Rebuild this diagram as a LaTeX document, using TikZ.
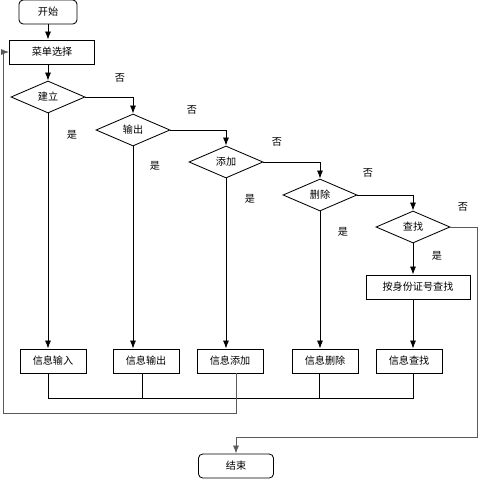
\documentclass[tikz,border=0pt]{standalone}
\usepackage{fontspec}
\newfontfamily\cjk{Noto Sans CJK SC}
\usepackage{tikz}
\usetikzlibrary{arrows.meta,shapes.geometric}
\definecolor{LineaGris}{RGB}{90,90,90}

\begin{document}
\begin{tikzpicture}[x=0.025cm,y=-0.025cm,>=Latex,line width=0.6pt,
  every node/.style={font=\cjk\fontsize{7.2}{9}\selectfont},
  terminal/.style={draw,rounded corners=3pt,minimum width=1.45cm,minimum height=0.6cm,inner sep=0pt},
  caja/.style={draw,minimum width=1.65cm,minimum height=0.6cm,inner sep=0pt},
  decision/.style={draw,diamond,minimum width=1.85cm,minimum height=0.8cm,inner sep=0pt},
  etiqueta/.style={inner sep=0pt}]
  \useasboundingbox (0,0) rectangle (480,480);
  % nodos
  \node[terminal] (inicio) at (48,12) {开始};
  \node[caja,minimum width=2.125cm] (menu) at (52,52) {菜单选择};
  \node[decision] (jianli) at (48,97) {建立};
  \node[decision] (shuchu) at (133,130) {输出};
  \node[decision] (tianjia) at (226,162) {添加};
  \node[decision] (shanchu) at (320,195) {删除};
  \node[decision] (chazhao) at (413,227) {查找};
  \node[caja,minimum width=2.6cm] (porid) at (418,287) {按身份证号查找};
  \node[caja] (info1) at (53,361) {信息输入};
  \node[caja] (info2) at (146,361) {信息输出};
  \node[caja] (info3) at (230,361) {信息添加};
  \node[caja] (info4) at (325,361) {信息删除};
  \node[caja] (info5) at (409,361) {信息查找};
  \node[terminal,minimum width=1.875cm] (fin) at (236,466) {结束};
  % flechas
  \draw[->] (inicio.south) -- (inicio.south |- menu.north);
  \draw[->] (jianli.north |- menu.south) -- (jianli.north);
  \draw[->] (jianli.east) -| (shuchu.north);
  \draw[->] (shuchu.east) -| (tianjia.north);
  \draw[->] (tianjia.east) -| (shanchu.north);
  \draw[->] (shanchu.east) -| (chazhao.north);
  \draw[->] (jianli.south) -- (jianli.south |- info1.north);
  \draw[->] (shuchu.south) -- (shuchu.south |- info2.north);
  \draw[->] (tianjia.south) -- (tianjia.south |- info3.north);
  \draw[->] (shanchu.south) -- (shanchu.south |- info4.north);
  \draw[->] (chazhao.south) -- (chazhao.south |- porid.north);
  \draw[->] (chazhao.south |- porid.south) -- (chazhao.south |- info5.north);
  % retorno
  \coordinate (b1) at (48,398);
  \coordinate (b2) at (142,398);
  \coordinate (b3) at (236,413);
  \coordinate (b4) at (319,398);
  \coordinate (b5) at (413,398);
  \draw (b1 |- info1.south) -- (b1) -- (b5) -- (b5 |- info5.south);
  \draw (b2 |- info2.south) -- (b2);
  \draw (b4 |- info4.south) -- (b4);
  \draw[->,LineaGris] (b3 |- info3.south) -- (b3) -- (3,413) |- (menu.west);
  \draw[->,LineaGris] (chazhao.east) -- (477,227) -- (477,437) -| (fin.north);
  % etiquetas
  \node[etiqueta] (no1) at (120,78) {否};
  \node[etiqueta] (no2) at (192,110) {否};
  \node[etiqueta] (no3) at (277,142) {否};
  \node[etiqueta] (no4) at (368,173) {否};
  \node[etiqueta] (no5) at (463,207) {否};
  \node[etiqueta] (si1) at (72,135) {是};
  \node[etiqueta] (si2) at (155,166) {是};
  \node[etiqueta] (si3) at (250,199) {是};
  \node[etiqueta] (si4) at (343,232) {是};
  \node[etiqueta] (si5) at (437,256) {是};
\end{tikzpicture}
\end{document}
